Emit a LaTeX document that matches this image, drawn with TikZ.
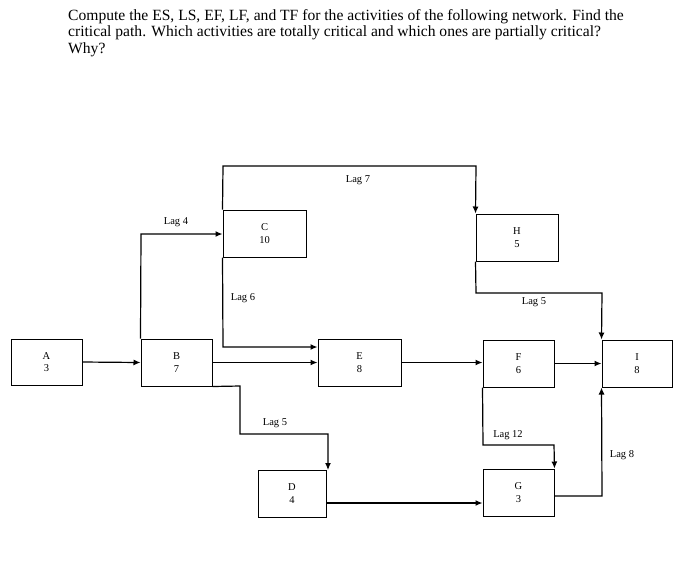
\documentclass[tikz,border=0pt]{standalone}
\usepackage{fontspec}
\setmainfont{Liberation Serif}
\usetikzlibrary{arrows.meta}
\begin{document}
\begin{tikzpicture}[x=1pt,y=-1pt,
  act/.style={draw,line width=1pt,inner sep=0pt,align=center,font=\fontsize{10.5}{12.5}\selectfont},
  lag/.style={font=\fontsize{10.5}{12}\selectfont},
  con/.style={line width=1.2pt,-{Latex[length=7pt,width=6pt]}},
  plain/.style={line width=1.2pt}]
\useasboundingbox (0,0) rectangle (700,566);
\node[anchor=north west,align=left,inner sep=0pt,font=\fontsize{15.6}{16.5}\selectfont] (hdr) at (68,9)
 {Compute the ES, LS, EF, LF, and TF for the activities of the following network. Find the\\
  critical path. Which activities are totally critical and which ones are partially critical?\\
  Why?};
\def\bx#1#2#3#4#5#6{\node[act,minimum width=#4-#2,minimum height=#5-#3] (#1) at ({(#2+#4)/2},{(#3+#5)/2}) {#6};}
\bx{A}{11}{339}{82}{385}{A\\3}
\bx{B}{141}{339}{212}{386}{B\\7}
\bx{C}{223}{210}{306}{257}{C\\10}
\bx{E}{318}{339}{401}{386}{E\\8}
\bx{H}{476}{214}{558}{261}{H\\5}
\bx{F}{483}{340}{554}{387}{F\\6}
\bx{I}{602}{340}{672}{387}{I\\8}
\bx{G}{483}{469}{554}{516}{G\\3}
\bx{D}{258}{470}{326}{517}{D\\4}
\draw[con] (A.east) -- (B.west);
\draw[con] (B.north west) -- (141,234) -- (C.west|-0,234);
\node[lag] (l4) at (176,222) {Lag 4};
\draw[con] (C.north west) -- (223,166) -- (476,166) -- (H.north west);
\node[lag] (l7) at (358,180) {Lag 7};
\draw[con] (C.south west) -- (223,347) -- (E.west|-0,347);
\node[lag] (l6) at (243,298) {Lag 6};
\draw[con] (B.east) -- (E.west|-B.east);
\draw[con] (B.south east) -- (240,386) -- (240,434) -- (328,434) -- (328,470);
\node[lag] (l5a) at (275,423) {Lag 5};
\draw[con] (E.east) -- (F.west|-E.east);
\draw[con] (H.south west) -- (476,293) -- (602,293) -- (I.north west);
\node[lag] (l5b) at (534,302) {Lag 5};
\draw[con] (F.east) -- (I.west|-F.east);
\draw[con] (F.south west) -- (483,445) -- (554,445) -- (G.north east);
\node[lag] (l12) at (508,435) {Lag 12};
\draw[con] (D.east|-0,503) -- (G.west|-0,503);
\draw[con] (G.east|-0,496) -- (602,496) -- (I.south west);
\node[lag] (l8) at (622,455) {Lag 8};
\end{tikzpicture}
\end{document}
